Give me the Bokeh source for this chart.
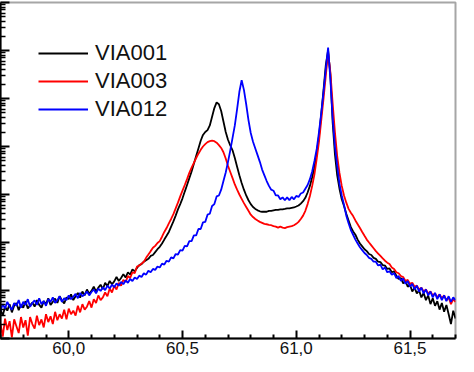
from bokeh.plotting import figure
from bokeh.models import (Legend, LegendItem, FixedTicker,
                          CustomJSTickFormatter, Range1d)
from bokeh.embed import file_html
from bokeh.resources import INLINE

# 2-theta scan: 59.70 .. 61.70 deg, step 0.01 deg
scan_start = 59.70
scan_step = 0.01

via001 = [40, 30, 46, 38, 52, 35, 48, 55, 39, 50,
          44, 60, 42, 49, 56, 46, 63, 50, 44, 60,
          52, 69, 50, 58, 68, 55, 76, 62, 54, 72,
          66, 83, 63, 76, 89, 71, 95, 79, 105, 85,
          98, 120, 95, 115, 132, 107, 145, 123, 158, 135,
          155, 191, 158, 182, 219, 186, 240, 214, 275, 251,
          295, 339, 355, 398, 427, 457, 525, 550, 631, 724,
          813, 955, 1150, 1380, 1660, 2140, 2750, 3630, 4900, 6310,
          8320, 11500, 15800, 21900, 30200, 43700, 63100, 91200, 132000, 174000,
          200000, 219000, 275000, 417000, 631000, 832000, 759000, 550000, 331000, 200000,
          138000, 105000, 83200, 57500, 38000, 25100, 17400, 12600, 9550, 7590,
          6310, 5500, 5010, 4680, 4470, 4370, 4370, 4370, 4570, 4570,
          4680, 4790, 4790, 4900, 4900, 5010, 5130, 5130, 5250, 5370,
          5620, 5890, 6460, 7240, 8510, 11000, 15100, 22900, 36300, 70800,
          166000, 479000, 1510000, 5010000, 10000000, 3160000, 316000, 69200, 25100, 13200,
          7940, 5750, 3980, 2880, 2090, 1700, 1450, 1150, 955, 832,
          724, 661, 575, 550, 479, 457, 398, 389, 339, 331,
          282, 288, 240, 251, 204, 174, 182, 141, 158, 120,
          132, 95, 115, 87, 100, 72, 89, 63, 79, 52,
          69, 48, 60, 40, 55, 36, 50, 32, 20, 38,
          26]

via003 = [20, 11, 26, 15, 23, 10.5, 25, 18, 13, 28,
          17, 24, 11.5, 28, 20, 16, 30, 19, 25, 17,
          32, 22, 29, 20, 36, 24, 32, 26, 40, 25,
          42, 32, 38, 30, 48, 35, 52, 40, 46, 60,
          44, 66, 55, 79, 63, 72, 91, 76, 110, 91,
          126, 105, 145, 126, 166, 151, 200, 182, 240, 229,
          316, 331, 363, 398, 479, 562, 661, 776, 851, 977,
          1070, 1320, 1660, 2000, 2510, 3090, 3890, 5130, 6760, 9120,
          12000, 15800, 20900, 28200, 36300, 45700, 57500, 70800, 85100, 100000,
          112000, 123000, 129000, 132000, 129000, 120000, 107000, 93300, 75900, 56200,
          39800, 29500, 21900, 16200, 12600, 10000, 8130, 6610, 5500, 4570,
          3800, 3390, 3090, 2880, 2690, 2570, 2450, 2400, 2340, 2290,
          2190, 2140, 2040, 2140, 2040, 2000, 2090, 2140, 2190, 2290,
          2450, 2690, 3090, 3630, 4570, 6310, 9330, 15100, 26300, 56200,
          126000, 355000, 1000000, 3020000, 8910000, 3550000, 794000, 200000, 63100, 28200,
          15100, 9550, 6760, 5010, 4170, 3550, 2880, 2400, 2000, 1660,
          1380, 1150, 1000, 871, 759, 661, 589, 525, 468, 417,
          380, 355, 302, 282, 240, 229, 200, 191, 158, 166,
          138, 145, 120, 126, 105, 115, 95, 105, 87, 95,
          79, 87, 72, 83, 69, 79, 63, 72, 52, 66,
          58]

via012 = [38, 52, 42, 58, 46, 40, 55, 48, 63, 44,
          58, 50, 66, 46, 55, 62, 50, 69, 52, 60,
          48, 66, 58, 72, 55, 63, 76, 58, 69, 63,
          79, 66, 74, 85, 69, 89, 76, 83, 95, 79,
          93, 105, 87, 110, 98, 117, 102, 126, 110, 132,
          117, 141, 126, 151, 135, 162, 145, 174, 158, 186,
          174, 204, 191, 229, 214, 257, 240, 282, 269, 316,
          302, 363, 347, 417, 398, 490, 468, 575, 562, 692,
          676, 851, 832, 1070, 1070, 1410, 1410, 1910, 1910, 2630,
          2690, 3800, 3980, 5750, 6310, 9120, 9550, 12600, 19100, 28800,
          47900, 83200, 151000, 275000, 603000, 1380000, 2400000, 1510000, 759000, 355000,
          191000, 126000, 91200, 66100, 47900, 33100, 25100, 19100, 15100, 12600,
          12000, 9550, 9550, 7940, 8710, 7590, 8710, 7590, 8910, 7940,
          9330, 8910, 10500, 11000, 13200, 15800, 20900, 30200, 50100, 89100,
          200000, 501000, 1380000, 4170000, 11500000, 2510000, 398000, 100000, 39800, 16600,
          9550, 6030, 3630, 2510, 1820, 1450, 1150, 955, 794, 692,
          603, 550, 479, 457, 398, 398, 331, 347, 275, 302,
          240, 251, 214, 229, 182, 200, 158, 178, 138, 158,
          120, 138, 105, 126, 95, 115, 87, 105, 79, 95,
          72, 89, 66, 83, 63, 79, 60, 76, 58, 72,
          63]

series_names = ["VIA001", "VIA003", "VIA012"]
series_colors = ["#000000", "#ff0000", "#0000ff"]

x_ticks = [60.0, 60.5, 61.0, 61.5]
x_minor_ticks = [59.7, 59.8, 59.9, 60.1, 60.2, 60.3, 60.4, 60.6, 60.7, 60.8, 60.9,
                 61.1, 61.2, 61.3, 61.4, 61.6, 61.7]

two_theta = [round(scan_start + scan_step * i, 2) for i in range(len(via001))]

p = figure(width=458, height=356, output_backend="svg", toolbar_location=None,
           x_range=Range1d(59.70, 61.70), y_range=Range1d(10, 1e8),
           y_axis_type="log",
           min_border_left=0, min_border_right=3, min_border_top=2, min_border_bottom=0)

p.background_fill_color = "white"
p.border_fill_color = "white"
p.grid.visible = False
p.outline_line_color = "#a6a6a6"
p.outline_line_width = 2

renderers = []
for ys, c in zip([via001, via003, via012], series_colors):
    r = p.line(two_theta, ys, line_color=c, line_width=1.8)
    renderers.append(r)

# x axis
p.xaxis.ticker = FixedTicker(ticks=x_ticks, minor_ticks=x_minor_ticks)
p.xaxis.formatter = CustomJSTickFormatter(code="return tick.toFixed(1).replace('.', ',');")
p.xaxis.major_label_text_font = "Liberation Sans"
p.xaxis.major_label_text_font_size = "17px"
p.xaxis.major_label_text_color = "#111111"
p.xaxis.major_label_standoff = 3
p.xaxis.axis_line_width = 2
p.xaxis.major_tick_in = 8
p.xaxis.major_tick_out = 0
p.xaxis.minor_tick_in = 4
p.xaxis.minor_tick_out = 0
p.xaxis.major_tick_line_width = 2
p.xaxis.minor_tick_line_width = 2

# y axis (log, no labels shown)
majors = [10 ** k for k in range(1, 9)]
minors = [m * 10 ** k for k in range(1, 8) for m in range(2, 10)]
p.yaxis.ticker = FixedTicker(ticks=majors, minor_ticks=minors)
p.yaxis.formatter = CustomJSTickFormatter(code="return '';")
p.yaxis.major_label_standoff = 0
p.yaxis.axis_line_width = 2
p.yaxis.major_tick_in = 9
p.yaxis.major_tick_out = 0
p.yaxis.minor_tick_in = 5
p.yaxis.minor_tick_out = 0
p.yaxis.major_tick_line_width = 2
p.yaxis.minor_tick_line_width = 1.5

legend = Legend(items=[LegendItem(label=n, renderers=[r]) for n, r in zip(series_names, renderers)],
                location="top_left")
legend.background_fill_alpha = 0
legend.border_line_color = None
legend.label_text_font = "Liberation Sans"
legend.label_text_font_size = "22px"
legend.label_text_color = "#111111"
legend.glyph_width = 50
legend.glyph_height = 24
legend.label_height = 24
legend.label_standoff = 7
legend.spacing = 2
legend.margin = 38
legend.padding = 0
p.add_layout(legend)

open("out.html", "w").write(file_html(p, INLINE))
